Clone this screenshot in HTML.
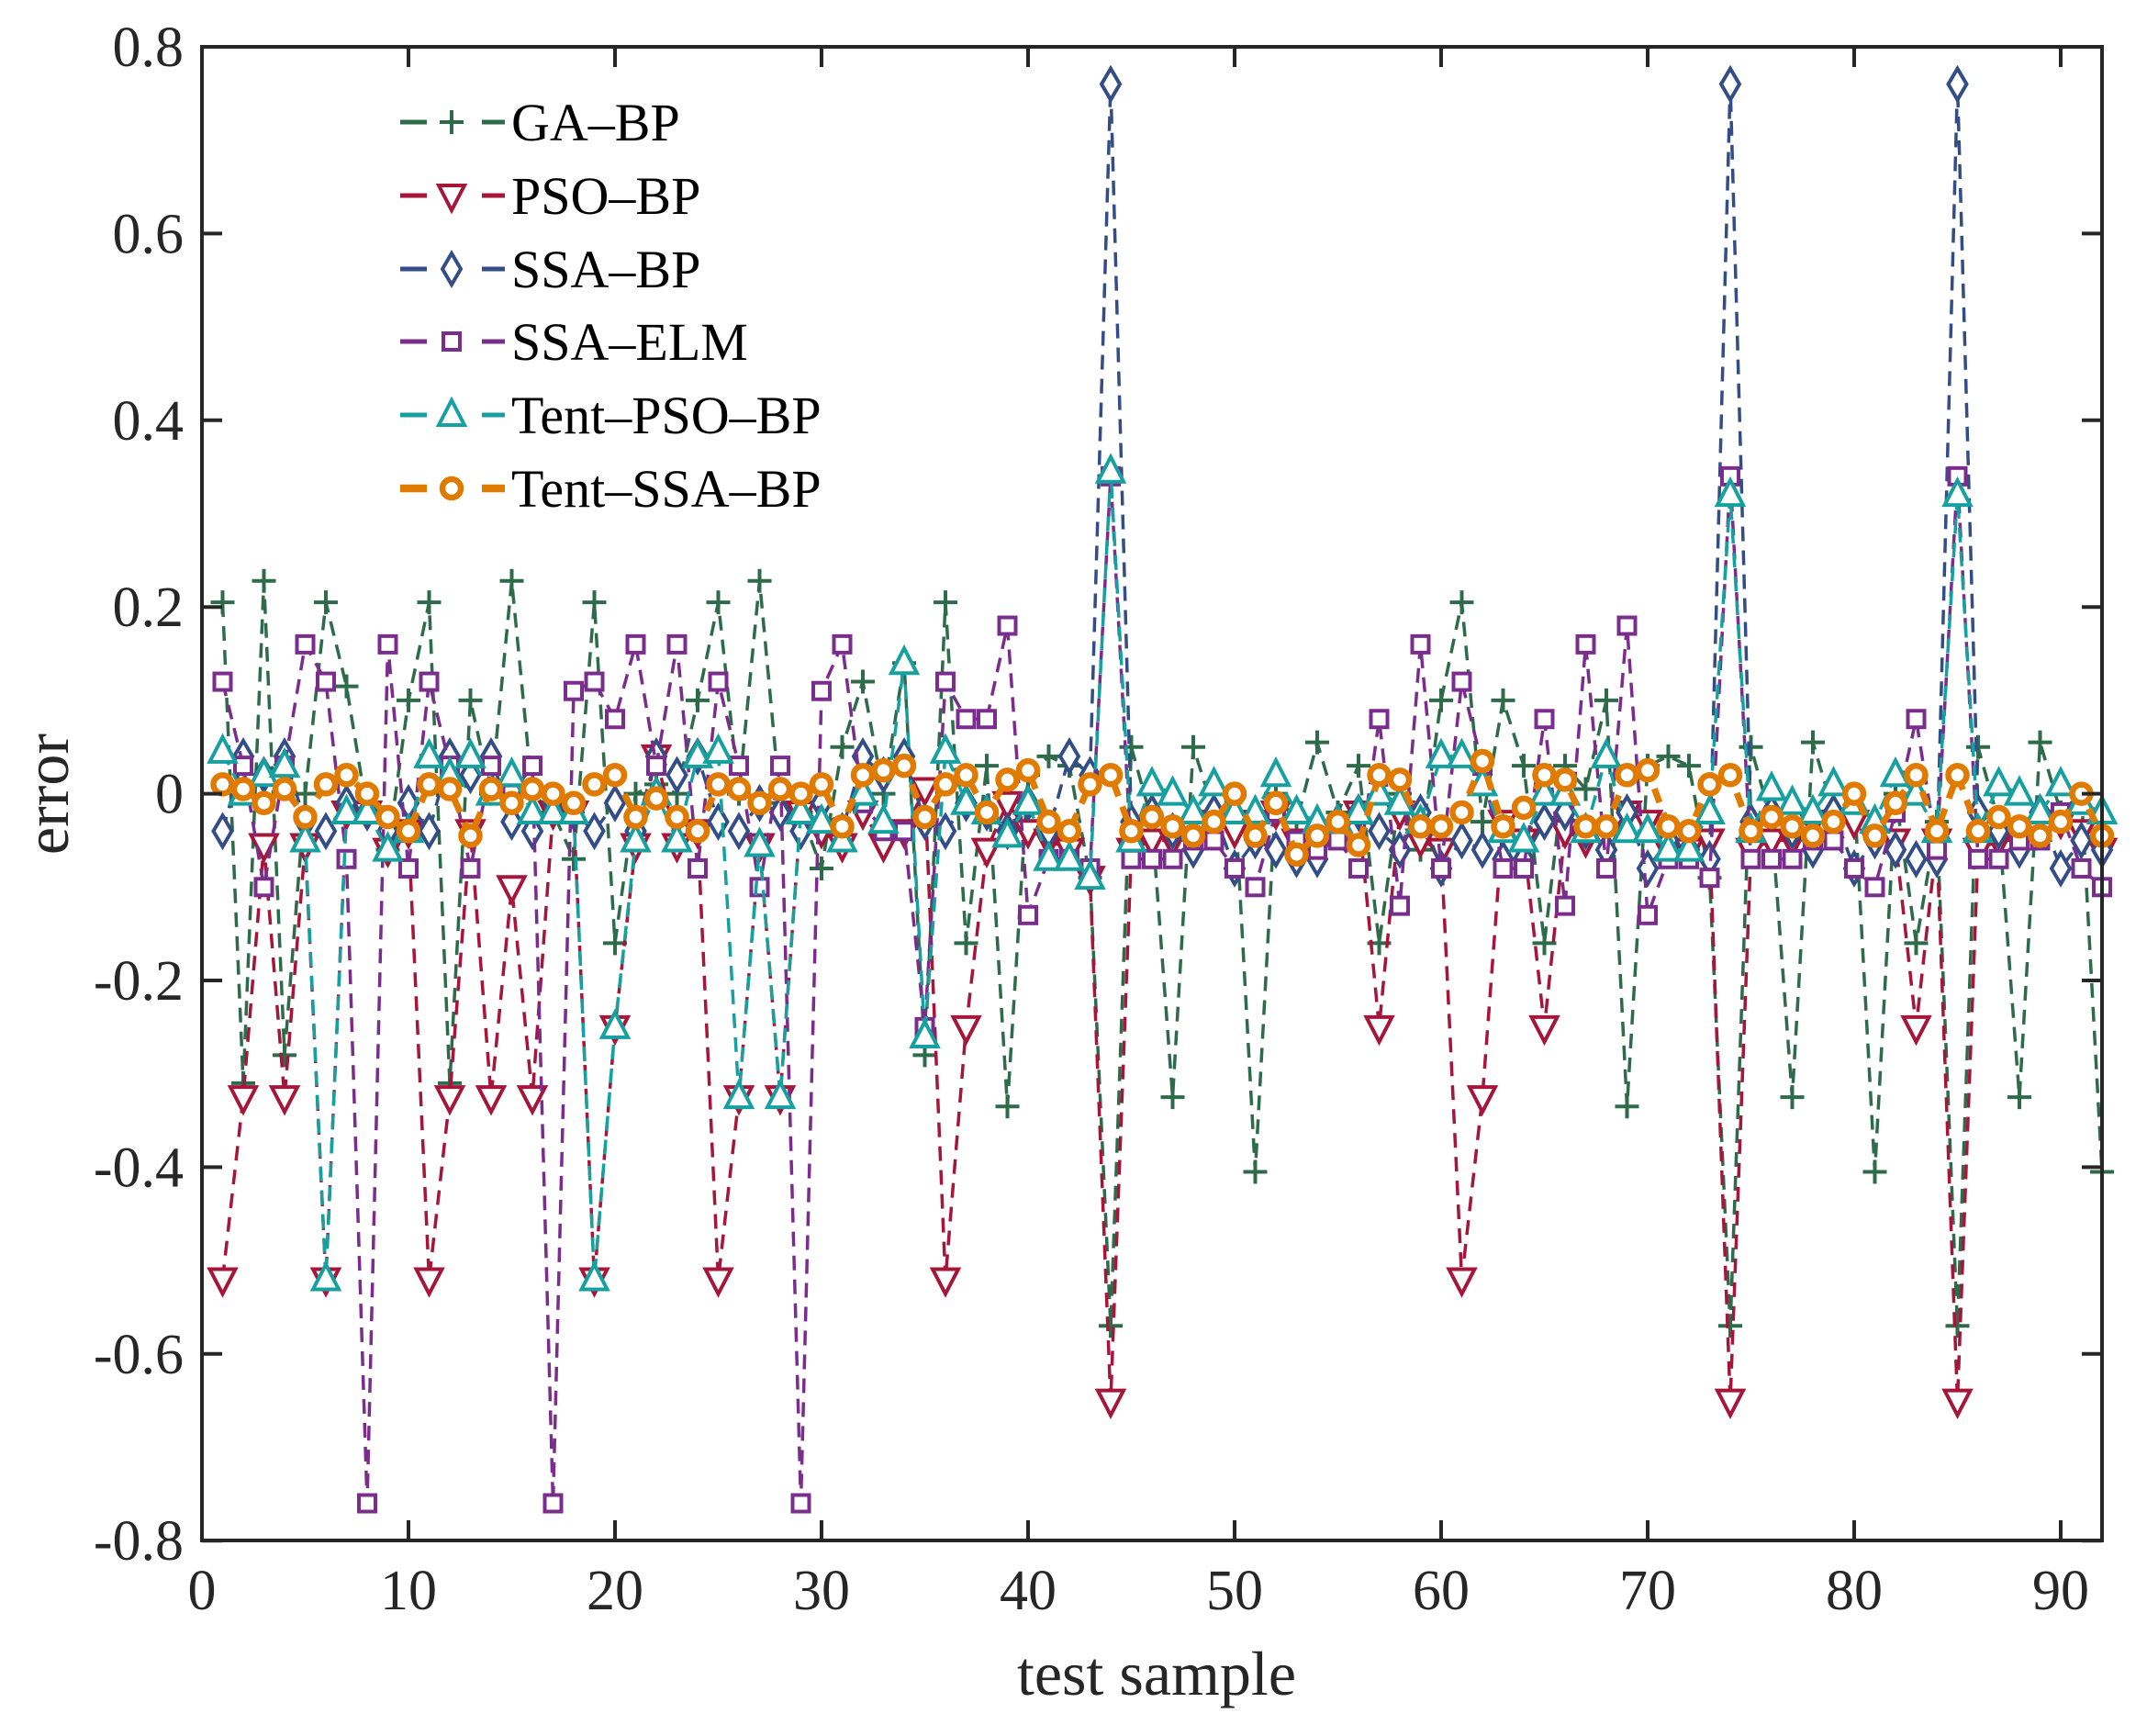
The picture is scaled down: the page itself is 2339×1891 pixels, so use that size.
<!DOCTYPE html>
<html><head><meta charset="utf-8"><style>
html,body{margin:0;padding:0;background:#fff;}
svg{display:block;font-family:"Liberation Serif",serif;}
</style></head><body>
<svg id="s" width="2339" height="1891" viewBox="0 0 2339 1891" xmlns="http://www.w3.org/2000/svg">
<rect width="2339" height="1891" fill="#fff"/>
<g id="plot"></g>
<g id="axes" stroke="#262626" stroke-width="4" fill="none">
<rect x="220" y="51" width="2070" height="1627"/>
</g>
<g id="ticks" stroke="#262626" stroke-width="4"></g>
<g id="labels" fill="#262626" font-size="62"></g>
<text x="1260" y="1846" font-size="68" text-anchor="middle" fill="#262626">test sample</text>
<text transform="translate(74,865) rotate(-90)" font-size="68" text-anchor="middle" fill="#262626">error</text>
<g id="legend"></g>
</svg>
<script>
var NS="http://www.w3.org/2000/svg";
function X(i){return 220+22.5*i;}
function Y(v){return 864.6-v*1017;}
function el(t,a,p){var e=document.createElementNS(NS,t);for(var k in a)e.setAttribute(k,a[k]);p.appendChild(e);return e;}
var ticks=document.getElementById('ticks'),labels=document.getElementById('labels');
for(var i=0;i<=90;i+=10){var x=X(i);el('line',{x1:x,y1:1678,x2:x,y2:1656},ticks);el('line',{x1:x,y1:51,x2:x,y2:73},ticks);
var t=el('text',{x:x,y:1753,'text-anchor':'middle'},labels);t.textContent=i;}
var yl=[0.8,0.6,0.4,0.2,0,-0.2,-0.4,-0.6,-0.8];
yl.forEach(function(v){var y=Y(v);el('line',{x1:220,y1:y,x2:242,y2:y},ticks);el('line',{x1:2290,y1:y,x2:2268,y2:y},ticks);
var t=el('text',{x:200,y:y+21,'text-anchor':'end'},labels);t.textContent=(v==0?'0':v.toFixed(1));});
var GA=[.205,-.31,.228,-.28,0,.205,.115,-.02,-.06,.1,.205,-.31,.1,0,.228,0,-.02,-.07,.205,-.16,0,.01,0,.1,.205,0,.228,-.01,-.02,-.08,.05,.12,0,.14,-.28,.205,-.16,.03,-.335,.02,.04,.03,-.09,-.57,.05,-.03,-.325,.05,-.02,0,-.405,0,-.03,.055,-.02,.03,-.16,0,-.06,.1,.205,-.03,.1,.03,-.16,.03,.005,.1,-.335,.03,.04,.03,-.09,-.57,.05,-.03,-.325,.055,-.02,0,-.405,0,-.16,-.03,-.57,.05,-.03,-.325,.055,-.02,0,-.405];
var PSO=[-.52,-.325,-.055,-.325,-.055,-.52,-.02,-.02,-.06,-.04,-.52,-.325,-.04,-.325,-.1,-.325,-.02,-.02,-.52,-.25,-.055,.04,-.055,-.04,-.52,-.325,-.055,-.325,-.02,-.04,-.055,-.02,-.055,-.04,.005,-.52,-.25,-.06,-.01,-.04,-.05,-.06,-.09,-.65,-.06,-.05,-.05,-.04,-.03,-.04,-.03,-.02,-.05,-.05,-.04,-.02,-.25,-.02,-.05,-.06,-.52,-.325,-.03,-.05,-.25,-.04,-.05,-.05,-.02,-.03,-.06,-.06,-.05,-.65,-.06,-.05,-.05,-.03,-.03,-.03,-.05,-.05,-.25,-.05,-.65,-.06,-.05,-.05,-.04,-.03,-.04,-.06];
var SSA=[];for(var i=1;i<=92;i++){var v;if(i==44||i==74||i==85)v=.76;else if(i<44)v=[-.04,.04,.02,.04,-.03,-.04,-.01,-.02,-.04,-.01][(i-1)%10];else v=[-.05,-.06,-.07,-.07,-.03,-.02,-.04,-.06,-.02,-.08][(i-1)%10];SSA.push(v);}
var ELM=[.12,.03,-.1,.03,.16,.12,-.07,-.76,.16,-.08,.12,.03,-.08,.03,0,.03,-.76,.11,.12,.08,.16,.03,.16,-.08,.12,.03,-.1,.03,-.76,.11,.16,-.01,-.04,-.04,-.25,.12,.08,.08,.18,-.13,-.07,-.07,-.08,.34,-.07,-.07,-.07,-.05,-.05,-.08,-.1,-.02,-.05,-.06,-.05,-.08,.08,-.12,.16,-.08,.12,.03,-.08,-.08,.08,-.12,.16,-.08,.18,-.13,-.07,-.07,-.09,.34,-.07,-.07,-.07,-.05,-.05,-.08,-.1,-.02,.08,-.06,.34,-.07,-.07,-.05,-.05,-.02,-.08,-.1];
var TPSO=[.045,0,.02,.03,-.05,-.52,-.02,-.02,-.06,-.04,.04,.02,.04,0,.02,-.02,-.02,-.02,-.52,-.25,-.05,0,-.05,.04,.045,-.325,-.055,-.325,-.02,-.03,-.05,0,-.03,.14,-.26,.045,-.01,-.02,-.045,-.01,-.07,-.07,-.09,.345,-.05,.01,0,-.02,.01,-.02,-.02,.02,-.02,-.03,-.03,-.02,0,-.01,-.03,.04,.04,.01,-.04,-.05,0,0,-.04,.04,-.04,-.04,-.06,-.06,-.02,.32,-.04,.005,-.01,-.02,.01,-.01,-.03,.02,0,-.04,.32,-.04,.01,0,-.02,.01,-.01,-.02];
var TSSA=[.01,.005,-.01,.005,-.025,.01,.02,0,-.025,-.04,.01,.005,-.045,.005,-.01,.005,0,-.01,.01,.02,-.025,-.005,-.025,-.04,.01,.005,-.01,.005,0,.01,-.035,.02,.025,.03,-.025,.01,.02,-.02,.015,.025,-.03,-.04,.01,.02,-.04,-.025,-.035,-.045,-.03,0,-.045,-.01,-.065,-.045,-.03,-.055,.02,.015,-.035,-.035,-.02,.035,-.035,-.015,.02,.015,-.035,-.035,.02,.025,-.035,-.04,.01,.02,-.04,-.025,-.035,-.045,-.03,0,-.045,-.01,.02,-.04,.02,-.04,-.025,-.035,-.045,-.03,0,-.045];
var series=[
{d:GA,c:'#2e6b4a',m:'plus',w:3.5,dash:'16 10'},
{d:PSO,c:'#a5163a',m:'tri',w:3.5,dash:'16 10'},
{d:SSA,c:'#334d86',m:'dia',w:3.5,dash:'16 10'},
{d:ELM,c:'#7b2d8e',m:'sq',w:3.5,dash:'16 10'},
{d:TPSO,c:'#16a0a0',m:'triu',w:3.5,dash:'16 10'},
{d:TSSA,c:'#e07b00',m:'circ',w:7,dash:'16 12'}];
function marker(m,x,y,c,g){
if(m=='plus'){el('path',{d:'M'+(x-13)+' '+y+'h26M'+x+' '+(y-13)+'v26',stroke:c,'stroke-width':4,fill:'none'},g);}
else if(m=='tri'){el('path',{d:'M'+(x-14)+' '+(y-11)+'L'+(x+14)+' '+(y-11)+'L'+x+' '+(y+16)+'Z',stroke:c,'stroke-width':4,fill:'#fff'},g);}
else if(m=='triu'){el('path',{d:'M'+(x-14)+' '+(y+11)+'L'+(x+14)+' '+(y+11)+'L'+x+' '+(y-16)+'Z',stroke:c,'stroke-width':4,fill:'#fff'},g);}
else if(m=='dia'){el('path',{d:'M'+x+' '+(y-17)+'L'+(x+10)+' '+y+'L'+x+' '+(y+17)+'L'+(x-10)+' '+y+'Z',stroke:c,'stroke-width':4,fill:'#fff'},g);}
else if(m=='sq'){el('rect',{x:x-9,y:y-9,width:18,height:18,stroke:c,'stroke-width':4,fill:'#fff'},g);}
else if(m=='circ'){el('circle',{cx:x,cy:y,r:10,stroke:c,'stroke-width':6.5,fill:'#fff'},g);}
}
var plot=document.getElementById('plot');
series.forEach(function(s){var g=el('g',{},plot);var p='';s.d.forEach(function(v,i){p+=(i?'L':'M')+X(i+1).toFixed(1)+' '+Y(v).toFixed(1);});
el('path',{d:p,stroke:s.c,'stroke-width':s.w,fill:'none','stroke-dasharray':s.dash},g);
s.d.forEach(function(v,i){marker(s.m,X(i+1),Y(v),s.c,g);});});
var names=['GA–BP','PSO–BP','SSA–BP','SSA–ELM','Tent–PSO–BP','Tent–SSA–BP'];
var leg=document.getElementById('legend');var ly=[133,213,293,372,452,532];
series.forEach(function(s,k){var y=ly[k];
el('line',{x1:436,y1:y,x2:465,y2:y,stroke:s.c,'stroke-width':s.w+1.5},leg);
el('line',{x1:525,y1:y,x2:550,y2:y,stroke:s.c,'stroke-width':s.w+1.5},leg);
marker(s.m,492,y,s.c,leg);
var t=el('text',{x:557,y:y+20,'font-size':58,fill:'#000'},leg);t.textContent=names[k];});
</script>
</body></html>
